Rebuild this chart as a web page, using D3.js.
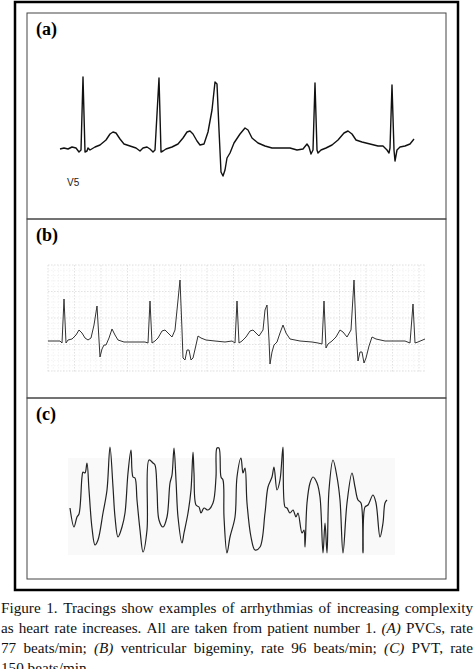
<!DOCTYPE html>
<html><head><meta charset="utf-8">
<script src="https://cdn.jsdelivr.net/npm/d3@7"></script>
<style>body{margin:0;background:#fff}</style></head>
<body><svg id="c" width="474" height="669"></svg>
<script>
// ---- data: tracings as [time, amplitude] samples ----
const panelLabels = ["(a)", "(b)", "(c)"];
const leadLabel = "V5";
const traceA = [[60,-1],[64,0],[68,-1],[72,1],[76,0],[79,-4],[81,-2],[83,71],[85,-4],[87,-3],[88,0],[90,-2],[95,1],[100,3],[106,8],[110,14],[113,16],[116,15],[120,9],[124,4],[130,2],[136,0],[140,-3],[143,0],[147,1],[150,-1],[153,-4],[155,-2],[159,70],[161,-4],[163,-3],[166,-1],[172,1],[178,4],[183,10],[187,16],[190,17],[193,14],[197,7],[200,3],[204,4],[208,16],[212,38],[215,66],[217,64],[219,18],[221,-24],[223,-28],[225,-22],[227,-10],[230,-5],[234,5],[240,14],[245,20],[248,18],[252,10],[258,5],[265,2],[272,0],[280,0],[290,0],[297,-2],[303,-1],[307,4],[309,1],[311,-6],[313,-2],[315,65],[317,-2],[318,-5],[321,-2],[326,0],[332,3],[338,8],[344,15],[348,17],[352,14],[356,8],[362,6],[370,4],[378,2],[383,2],[387,-2],[389,-5],[390,0],[392,63],[394,-2],[395,-13],[397,-2],[400,1],[405,2],[410,4],[414,9]];
const traceB = [[48,0],[55,0],[60,0],[62,-2],[64,42],[66,-2],[68,1],[72,2],[76,6],[79,11],[82,8],[85,3],[88,1],[91,3],[94,16],[97,35],[99,1],[100,-16],[102,-8],[104,-4],[106,-4],[109,3],[112,12],[115,6],[118,1],[124,-1],[135,-1],[145,-1],[148,-2],[150,40],[152,-2],[155,0],[158,3],[162,10],[165,11],[168,8],[172,4],[175,11],[178,41],[180,61],[182,11],[183,-17],[185,-19],[187,-9],[189,-9],[191,-19],[193,-17],[196,-4],[198,5],[201,3],[206,1],[215,0],[225,-1],[232,0],[235,-2],[237,40],[239,-2],[242,0],[246,4],[250,10],[253,11],[256,8],[259,5],[263,11],[265,31],[267,36],[269,1],[270,-23],[272,-11],[274,-4],[277,-1],[280,8],[283,16],[286,8],[290,2],[300,0],[312,-1],[318,-2],[322,-3],[324,40],[326,-7],[328,-3],[332,0],[336,4],[340,11],[343,9],[347,4],[351,11],[354,61],[356,11],[358,-20],[360,-11],[362,-11],[364,-22],[366,-17],[369,-5],[372,4],[376,2],[385,0],[395,0],[405,0],[410,-2],[413,37],[415,-2],[418,-1],[425,2]];
const traceC = [[70,-8],[74,-27],[77,-17],[79,-14],[82,23],[83,28],[85,27],[87,37],[89,10],[92,-28],[95,-45],[98,-40],[103,-13],[107,10],[110,53],[113,13],[115,-17],[118,-37],[122,-27],[125,-13],[128,27],[131,50],[133,23],[135,22],[137,0],[140,-30],[143,-52],[147,-30],[149,40],[153,37],[155,35],[157,10],[159,-20],[163,-27],[167,-17],[170,17],[172,25],[174,52],[176,20],[178,-17],[182,-43],[184,-33],[188,-13],[191,10],[193,48],[194,27],[196,-5],[199,-7],[201,-13],[204,-8],[208,-10],[213,-3],[216,23],[217,52],[219,52],[221,23],[223,20],[224,-17],[227,-53],[230,-37],[235,-17],[237,23],[241,42],[243,27],[245,32],[247,-3],[251,-37],[255,-50],[260,-47],[265,-13],[268,13],[272,23],[274,33],[277,10],[280,20],[283,53],[285,-7],[287,-8],[290,-13],[293,-10],[296,-17],[298,-13],[302,-33],[304,-30],[305,-47],[307,-3],[310,17],[313,23],[317,17],[320,3],[323,-53],[325,-23],[327,-53],[329,10],[333,40],[337,23],[340,0],[343,-53],[347,-3],[352,27],[355,13],[358,0],[361,-3],[363,-53],[365,-7],[368,-5],[373,5],[376,-3],[380,-37],[383,-23],[385,-3],[387,0]];
const captionLines = [
  [["Figure",0],["1.",0],["Tracings",0],["show",0],["examples",0],["of",0],["arrhythmias",0],["of",0],["increasing",0],["complexity",0]],
  [["as",0],["heart",0],["rate",0],["increases.",0],["All",0],["are",0],["taken",0],["from",0],["patient",0],["number",0],["1.",0],["(A)",1],["PVCs,",0],["rate",0]],
  [["77",0],["beats/min;",0],["(B)",1],["ventricular",0],["bigeminy,",0],["rate",0],["96",0],["beats/min;",0],["(C)",1],["PVT,",0],["rate",0]],
  [["150",0],["beats/min.",0]]
];

const svg = d3.select("#c");
const serif = "'Liberation Serif','DejaVu Serif',serif";

svg.append("rect").attr("x",15).attr("y",2).attr("width",443).attr("height",588)
  .attr("fill","none").attr("stroke","#000").attr("stroke-width",2.5);

const panels = [
  {y0:13, y1:219, data:traceA, xr:[60,414], base:148, sw:1.4, col:"#111"},
  {y0:219, y1:398, data:traceB, xr:[48,425], base:341, sw:1.0, col:"#333"},
  {y0:398, y1:579, data:traceC, xr:[70,387], base:500, sw:1.2, col:"#222"}
];

panels.forEach((p,i)=>{
  const g = svg.append("g");
  g.append("rect").attr("x",27).attr("y",p.y0).attr("width",419).attr("height",p.y1-p.y0)
    .attr("fill","none").attr("stroke","#444").attr("stroke-width",1);
  g.append("text").text(panelLabels[i]).attr("x",36).attr("y",p.y0+22)
    .attr("font-family",serif).attr("font-weight","bold").attr("font-size",18);

  const xd = d3.extent(p.data,d=>d[0]);
  const x = d3.scaleLinear().domain(xd).range(p.xr);
  const y = d3.scaleLinear().domain([0,100]).range([p.base,p.base-100]);

  if(i===1){
    const grid = g.append("g");
    const gx = d3.range(48,426,5.3), gy = d3.range(265,373,5.3);
    grid.selectAll(".v").data(gx).join("line").attr("x1",d=>d).attr("x2",d=>d).attr("y1",265).attr("y2",372)
      .attr("stroke",(d,k)=>k%5===0?"#cfcfcf":"#ececec").attr("stroke-width",0.6).attr("stroke-dasharray","1.5,1.5");
    grid.selectAll(".h").data(gy).join("line").attr("y1",d=>d).attr("y2",d=>d).attr("x1",48).attr("x2",425)
      .attr("stroke",(d,k)=>k%5===0?"#cfcfcf":"#ececec").attr("stroke-width",0.6).attr("stroke-dasharray","1.5,1.5");
  }
  if(i===2){
    g.append("rect").attr("x",68).attr("y",458).attr("width",327).attr("height",97).attr("fill","#f9f9f9");
  }
  if(i===0){
    g.append("text").text(leadLabel).attr("x",67).attr("y",186)
      .attr("font-family","'Liberation Sans',Arial,sans-serif").attr("font-size",10).attr("fill","#222");
  }
  g.append("path").datum(p.data)
    .attr("d",d3.line().curve(i===2?d3.curveCatmullRom.alpha(0.5):d3.curveLinear).x(d=>x(d[0])).y(d=>y(d[1])))
    .attr("fill","none").attr("stroke",p.col).attr("stroke-width",p.sw).attr("stroke-linejoin","round");
});

const fs = 15.2;
captionLines.forEach((words,li)=>{
  const by = 613 + li*20;
  const els = words.map(w=>svg.append("text").text(w[0]).attr("font-family",serif)
    .attr("font-size",fs).attr("font-style",w[1]?"italic":"normal").attr("y",by).attr("fill","#111"));
  const widths = els.map(e=>e.node().getComputedTextLength());
  const total = d3.sum(widths);
  const last = li===captionLines.length-1;
  const gap = last ? fs*0.25 : (472-total)/(words.length-1);
  let cx = 1;
  els.forEach((e,k)=>{ e.attr("x",cx); cx += widths[k]+gap; });
});
</script></body></html>
